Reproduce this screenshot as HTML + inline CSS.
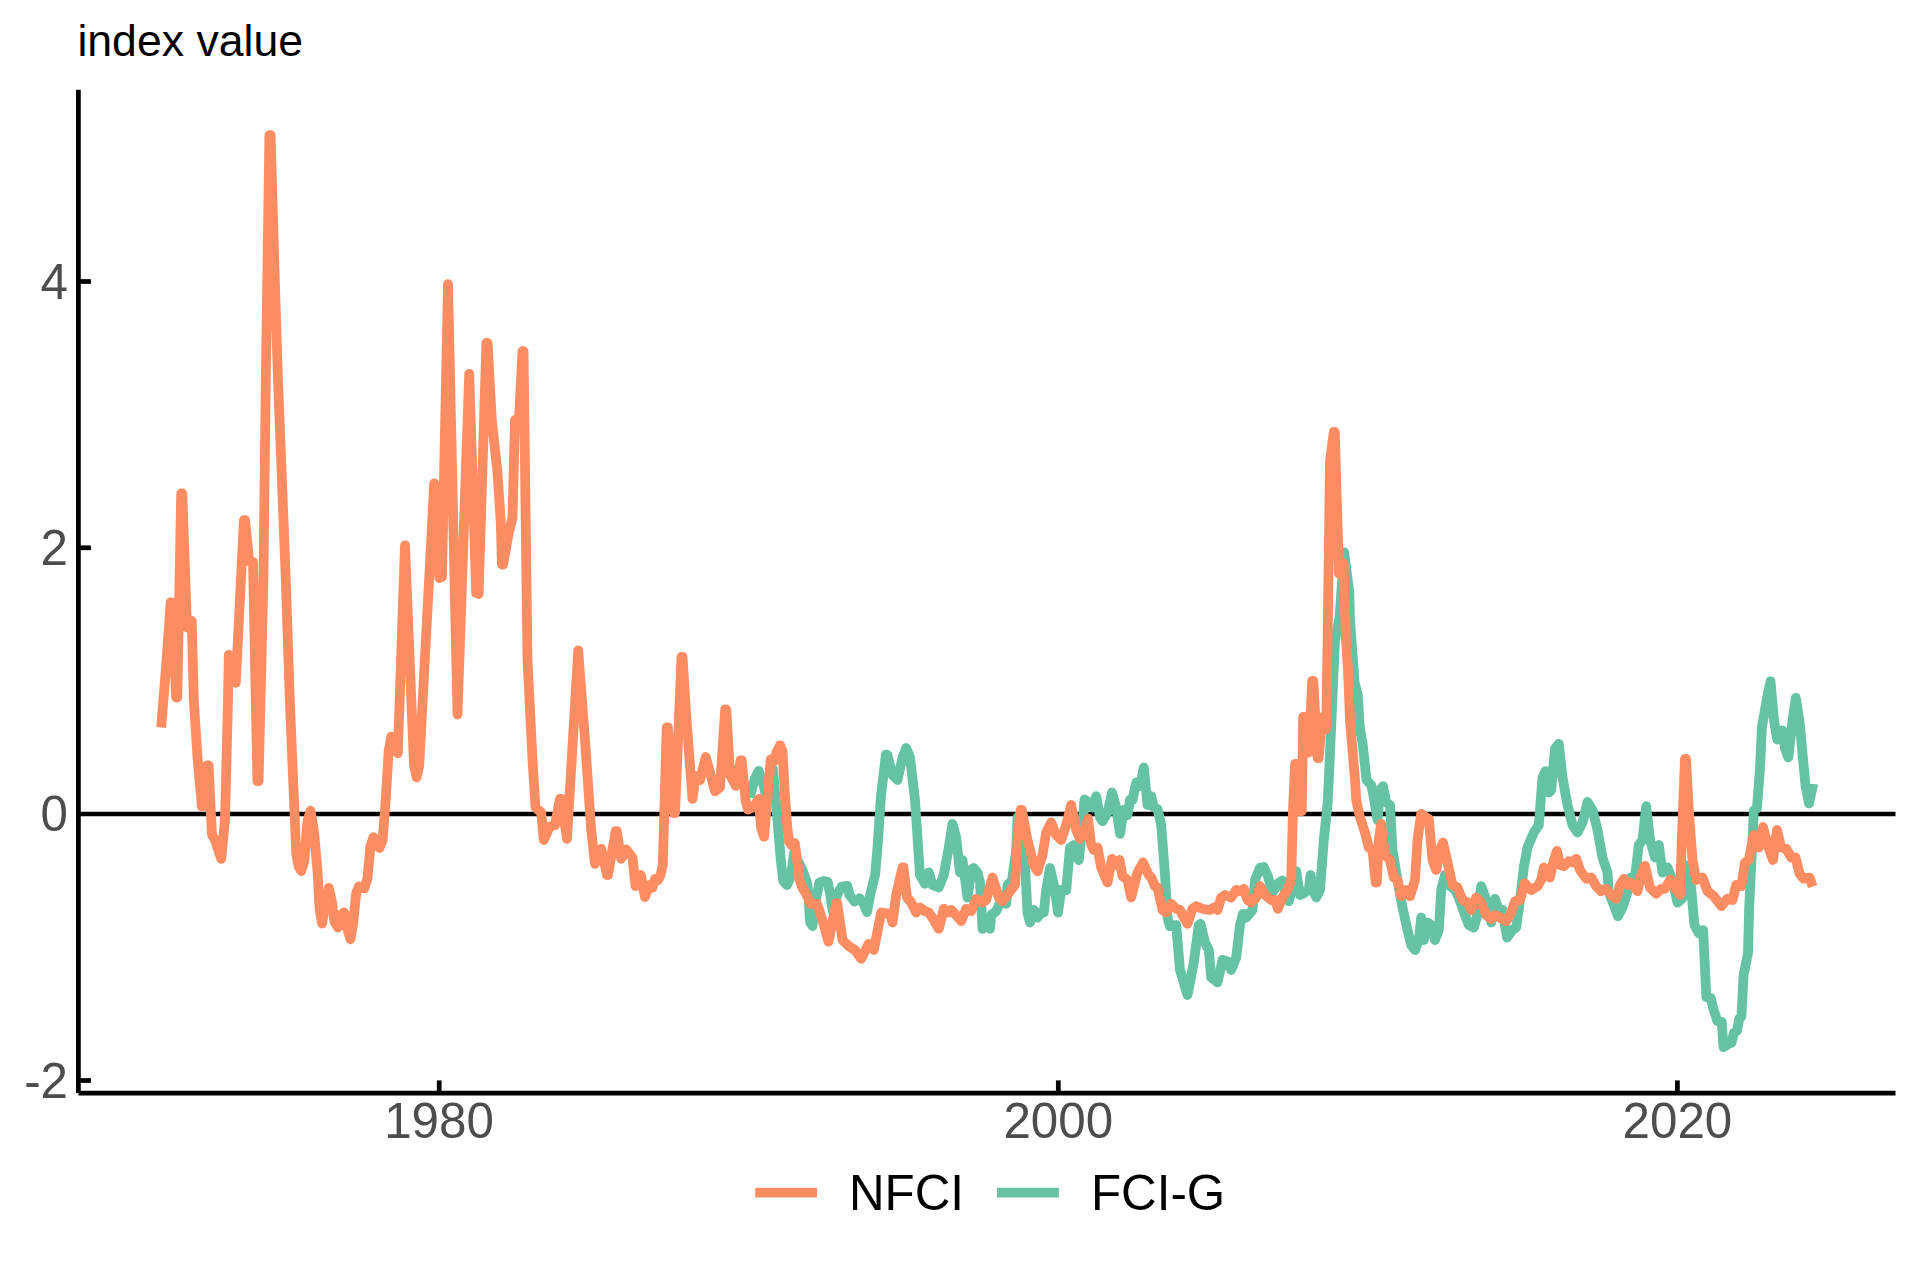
<!DOCTYPE html>
<html><head><meta charset="utf-8"><title>index value</title>
<style>
html,body{margin:0;padding:0;background:#fff;}
body{width:1920px;height:1280px;overflow:hidden;font-family:"Liberation Sans",sans-serif;}
svg{display:block}
text{font-family:"Liberation Sans",sans-serif;}
.ax{fill:#4d4d4d;font-size:49.3px}
</style></head><body>
<svg width="1920" height="1280" viewBox="0 0 1920 1280">
<rect width="1920" height="1280" fill="#fff"/>
<text x="77.4" y="56" font-size="44.6" fill="#000">index value</text>
<g stroke="#000" stroke-width="4.74" fill="none">
<line x1="78.4" y1="89.8" x2="78.4" y2="1093.1"/>
<line x1="78.4" y1="1093.1" x2="1895.5" y2="1093.1"/>
<line x1="78.4" y1="814" x2="1895.5" y2="814"/>
<line x1="78.4" y1="281.5" x2="90.9" y2="281.5"/>
<line x1="78.4" y1="547.8" x2="90.9" y2="547.8"/>
<line x1="78.4" y1="1080.5" x2="90.9" y2="1080.5"/>
<line x1="439.2" y1="1093.1" x2="439.2" y2="1080.4"/>
<line x1="1058.3" y1="1093.1" x2="1058.3" y2="1080.4"/>
<line x1="1677.4" y1="1093.1" x2="1677.4" y2="1080.4"/>
</g>
<g class="ax" text-anchor="end">
<text x="68.0" y="298.7">4</text>
<text x="68.0" y="565">2</text>
<text x="68.0" y="831.2">0</text>
<text x="68.0" y="1097.6">-2</text>
</g>
<g class="ax" text-anchor="middle">
<text x="439" y="1138">1980</text>
<text x="1058.3" y="1138">2000</text>
<text x="1677.4" y="1138">2020</text>
</g>
<g fill="none" stroke-width="9.8" stroke-linejoin="round" stroke-linecap="butt">
<polyline stroke="#66c2a5" points="749.7,797.3 754.6,779.2 758.7,771.0 762.8,782.5 766.9,798.9 773.0,769.4 776.8,812.1 780.9,861.3 783.3,881.0 786.9,885.1 791.0,876.1 794.0,853.1 802.2,869.5 807.1,882.6 808.4,894.1 810.1,922.0 812.5,926.1 815.3,902.3 819.4,882.6 823.5,881.0 827.6,881.8 830.1,894.1 832.6,910.5 837.5,894.1 841.6,886.7 847.3,885.9 849.8,895.7 854.7,901.5 859.6,898.2 863.7,903.9 867.0,912.2 870.3,894.1 875.2,874.4 877.7,844.9 881.0,795.6 885.9,754.6 887.5,755.0 887.5,755.5 892.5,775.0 897.5,780.0 902.5,757.5 906.2,748.0 910.0,757.5 915.0,800.0 920.0,875.0 925.0,883.8 928.8,872.5 932.5,885.0 938.8,887.5 943.8,875.0 948.8,847.5 952.5,823.8 956.2,837.5 960.0,872.5 962.5,860.0 967.5,897.5 971.2,870.0 973.8,868.0 977.5,872.5 980.0,882.5 982.5,928.8 986.2,920.0 990.0,928.8 991.2,915.0 996.2,911.2 1001.2,900.0 1006.2,903.8 1007.5,885.0 1012.0,880.5 1016.2,850.0 1017.5,817.5 1021.2,813.8 1023.8,840.0 1025.5,875.0 1027.5,912.5 1030.0,922.5 1033.8,910.0 1037.5,917.5 1041.2,912.5 1043.8,912.5 1046.2,890.0 1050.0,868.0 1055.0,890.0 1058.0,912.5 1061.2,890.0 1066.2,890.0 1070.0,847.5 1073.8,845.0 1078.8,860.0 1082.5,825.0 1084.5,799.5 1088.8,802.5 1092.5,807.5 1096.2,796.2 1100.0,817.5 1102.5,821.2 1107.5,812.5 1112.0,792.5 1116.2,807.5 1120.0,833.8 1123.8,810.0 1127.5,815.0 1130.0,800.0 1132.5,800.0 1136.2,782.5 1140.0,786.2 1143.8,767.5 1147.5,805.0 1151.2,796.2 1153.8,807.5 1157.5,808.8 1161.2,825.0 1165.0,875.0 1167.5,917.5 1170.0,926.2 1176.2,925.0 1180.0,970.0 1183.8,982.5 1187.5,995.0 1193.8,962.5 1198.8,925.0 1200.5,923.8 1205.0,942.5 1208.8,950.0 1211.2,977.5 1217.5,982.5 1222.5,960.0 1227.5,961.2 1231.2,970.0 1236.2,957.5 1240.0,925.0 1243.0,913.8 1246.2,917.5 1252.5,910.0 1255.0,880.0 1260.0,867.5 1263.8,867.0 1267.5,875.0 1272.5,892.5 1278.8,882.5 1282.5,880.5 1286.2,895.0 1288.8,901.2 1292.5,887.5 1296.2,871.2 1300.0,895.0 1305.0,892.5 1308.8,890.0 1310.5,875.0 1313.8,892.5 1316.2,897.5 1320.0,890.0 1323.8,840.0 1327.5,805.0 1328.8,780.0 1335.0,640.0 1339.5,618.0 1344.1,552.3 1349.3,592.0 1350.0,620.0 1354.6,682.5 1357.8,695.0 1359.6,726.0 1362.8,745.0 1366.5,780.0 1371.2,785.0 1373.8,797.5 1377.5,820.0 1380.0,790.0 1383.0,786.2 1386.2,802.5 1390.0,805.0 1392.5,850.0 1397.5,880.0 1402.5,907.5 1407.5,930.0 1411.2,945.0 1415.0,950.0 1418.8,940.0 1421.2,917.5 1423.8,940.0 1427.5,922.5 1431.2,925.0 1435.0,940.0 1438.8,930.0 1441.2,890.0 1445.0,875.0 1448.8,885.0 1455.0,890.0 1458.8,897.5 1465.0,915.0 1468.8,925.0 1473.8,927.5 1477.5,915.0 1481.2,886.2 1486.2,900.0 1490.0,915.0 1491.2,922.5 1495.0,898.8 1498.8,910.0 1502.5,910.0 1507.0,937.5 1512.5,930.0 1516.2,927.5 1520.0,900.0 1523.8,867.5 1527.5,847.5 1533.8,832.5 1538.8,825.0 1542.5,777.5 1545.5,771.2 1548.8,792.5 1551.2,790.0 1555.0,748.8 1558.8,743.8 1562.5,777.5 1567.5,805.0 1572.5,825.0 1577.5,832.5 1582.5,822.5 1587.5,802.0 1592.5,810.0 1597.5,830.0 1602.5,857.5 1607.5,872.5 1608.8,892.5 1613.8,905.0 1618.0,916.2 1622.5,907.5 1625.0,900.0 1627.5,892.5 1631.2,877.5 1635.0,877.5 1638.8,845.0 1642.5,840.0 1646.2,806.2 1650.0,840.0 1655.0,857.5 1658.8,845.0 1662.5,872.5 1667.5,867.5 1672.5,880.0 1677.5,902.5 1682.3,898.4 1687.8,865.6 1691.1,887.5 1694.4,924.7 1698.8,933.4 1703.1,930.2 1706.4,996.9 1710.8,998.0 1713.0,1007.8 1717.3,1020.9 1721.7,1022.0 1723.5,1047.2 1728.3,1043.9 1731.6,1042.8 1733.8,1033.0 1737.0,1030.8 1739.2,1018.8 1741.4,1016.6 1743.6,975.0 1748.0,953.1 1749.1,909.4 1751.2,865.6 1752.4,843.0 1753.8,810.6 1756.9,808.5 1759.9,769.9 1761.9,727.3 1768.0,692.8 1770.5,681.2 1774.1,721.2 1777.2,739.5 1782.2,730.4 1785.3,749.6 1788.3,757.4 1792.4,721.2 1795.8,697.9 1799.5,721.2 1802.5,753.7 1805.6,786.2 1809.0,803.5 1813.3,783.8"/>
<polyline stroke="#fc8d62" points="161.2,727.5 165.8,670.0 170.7,602.5 171.8,602.5 176.2,697.5 177.3,697.5 181.2,493.5 182.3,493.5 187.0,627.5 191.8,621.0 193.8,700.0 197.5,757.5 201.9,806.2 203.1,806.2 207.4,765.5 208.6,765.5 212.0,835.0 215.0,840.0 221.2,858.8 225.0,820.0 228.0,700.0 228.8,654.8 235.8,682.8 243.9,520.2 245.1,520.2 249.2,561.2 253.0,562.0 257.4,781.2 258.6,781.2 263.4,580.0 265.8,380.0 269.4,135.2 270.6,135.2 275.0,287.0 278.0,380.0 281.2,461.0 285.8,580.0 289.8,700.0 293.2,781.3 296.3,854.4 298.7,866.6 301.3,871.1 304.4,860.5 307.4,821.9 310.5,810.7 314.1,832.1 317.6,872.7 319.6,909.3 322.1,923.5 325.1,905.2 328.8,887.9 331.8,901.1 334.4,921.4 337.9,927.5 340.9,915.3 344.0,912.3 347.0,927.5 350.5,939.3 353.1,923.5 356.2,893.0 358.8,886.5 364.3,888.5 367.4,878.8 370.4,846.3 373.5,837.1 379.5,847.9 382.6,840.2 385.6,801.6 388.7,750.8 391.3,736.6 397.8,753.2 405.0,545.5 414.0,765.0 416.6,777.5 419.2,766.0 434.2,483.5 439.4,578.0 442.0,577.0 448.0,284.2 457.5,714.5 469.2,373.8 476.2,593.0 478.6,594.0 486.4,343.0 487.6,343.0 491.8,420.0 497.5,472.5 500.8,522.5 501.9,564.5 503.1,564.5 508.8,532.5 512.5,517.5 515.0,420.0 518.8,422.5 522.5,351.2 523.5,351.2 526.2,560.0 527.5,660.0 532.5,760.0 535.5,807.5 541.2,812.5 543.8,840.0 550.0,826.2 555.0,825.0 560.0,798.8 561.0,798.8 567.0,838.8 578.2,650.5 585.0,740.0 591.2,830.0 595.0,863.8 601.2,848.8 607.0,875.0 608.0,875.0 615.7,831.2 616.8,831.2 621.2,858.8 626.2,849.5 632.5,857.5 635.5,886.2 640.8,875.0 645.0,897.0 649.5,885.0 652.5,887.5 655.0,878.8 658.0,880.0 660.5,875.0 662.8,865.0 666.7,727.5 667.8,727.5 674.0,813.2 675.0,813.2 681.5,657.0 682.5,657.0 686.2,715.0 692.5,798.8 695.5,776.2 700.0,780.0 705.8,757.0 715.0,791.2 720.0,787.5 725.2,709.5 726.3,709.5 730.0,775.0 735.7,785.8 740.6,760.4 741.7,760.4 745.6,800.6 748.1,809.6 753.8,807.1 758.7,798.9 761.2,828.5 764.0,836.7 767.7,795.6 770.7,759.5 774.3,761.2 776.8,751.3 780.1,745.3 782.5,751.3 785.0,795.6 787.4,828.5 789.1,841.6 791.5,844.9 794.8,843.2 797.3,861.3 798.9,877.7 802.2,887.5 806.3,894.1 810.4,903.9 817.0,903.9 819.4,910.5 824.4,926.9 828.5,941.7 836.1,903.1 837.2,903.1 842.5,940.0 848.8,946.2 855.0,950.0 861.2,958.8 868.8,943.8 873.8,950.0 881.2,912.5 890.0,913.8 892.5,922.5 896.2,895.0 902.5,867.5 903.5,867.5 907.0,897.5 911.2,902.5 916.2,912.5 920.0,907.5 925.0,911.2 928.8,912.5 933.8,920.0 938.8,928.8 943.8,908.8 948.8,912.5 951.2,910.0 955.0,913.8 961.2,921.2 966.2,908.8 971.2,911.2 976.2,898.8 982.5,902.5 986.2,900.0 992.5,877.5 998.8,897.5 1002.5,901.2 1010.0,891.2 1015.0,885.0 1017.5,840.0 1020.7,810.0 1021.8,810.0 1027.5,840.0 1033.8,865.0 1037.5,871.2 1042.5,855.0 1046.2,832.5 1051.2,822.5 1056.2,835.0 1061.2,840.0 1066.2,825.0 1071.2,805.0 1076.2,830.0 1080.0,838.8 1085.0,830.0 1088.0,818.8 1091.2,845.0 1093.8,850.0 1097.5,847.5 1101.2,867.5 1107.5,882.5 1112.0,858.8 1116.2,865.0 1119.5,860.0 1122.5,876.2 1127.5,880.0 1131.2,897.5 1137.5,872.5 1143.0,862.5 1148.8,875.0 1151.2,877.5 1155.0,886.2 1157.5,887.5 1162.5,910.0 1166.2,912.5 1171.2,903.8 1176.2,908.8 1180.0,910.0 1183.8,917.5 1187.5,923.8 1192.5,908.8 1196.2,906.2 1202.5,908.8 1210.0,910.0 1213.8,907.5 1217.5,910.0 1221.2,897.5 1225.0,895.0 1231.2,897.5 1236.2,890.0 1240.0,891.2 1243.8,888.8 1247.5,900.0 1251.2,902.5 1256.2,897.5 1260.0,886.2 1265.0,895.0 1271.2,900.0 1275.0,900.0 1278.0,908.8 1282.5,897.5 1287.5,890.0 1291.2,880.0 1293.0,810.0 1295.1,763.8 1296.2,763.8 1300.7,811.2 1301.8,811.2 1303.2,716.9 1304.3,716.9 1307.6,752.5 1308.7,752.5 1312.2,680.9 1313.3,680.9 1317.6,758.1 1318.7,758.1 1322.2,717.2 1326.2,729.0 1327.6,640.0 1330.0,461.3 1333.8,432.0 1334.8,432.0 1339.0,573.8 1343.6,563.5 1346.0,640.0 1348.0,670.0 1350.0,720.0 1355.0,780.0 1356.2,800.0 1360.0,817.5 1365.0,832.5 1368.8,847.5 1372.5,850.0 1375.7,882.5 1376.8,882.5 1378.8,840.0 1381.2,823.8 1385.0,855.0 1390.0,860.0 1393.8,877.5 1397.5,880.0 1401.2,896.2 1406.2,890.0 1410.0,896.2 1415.0,880.0 1417.5,840.0 1421.2,813.8 1426.2,817.5 1428.8,818.8 1432.5,860.0 1436.2,870.0 1440.0,850.0 1443.0,842.5 1447.5,862.5 1452.5,885.0 1457.5,887.5 1462.5,900.0 1467.5,902.5 1471.2,910.0 1476.2,897.5 1481.2,902.5 1486.2,915.0 1491.2,918.8 1495.0,915.0 1500.0,917.5 1506.2,921.2 1511.2,912.5 1515.0,901.2 1520.0,900.0 1524.5,883.2 1531.2,890.0 1537.5,886.2 1541.2,880.0 1543.8,867.5 1546.2,868.8 1550.0,877.5 1553.8,860.0 1557.0,850.8 1560.0,865.0 1563.8,866.2 1568.8,861.2 1572.5,862.5 1576.2,858.8 1580.0,870.0 1586.2,878.8 1591.2,877.5 1596.2,886.2 1601.2,891.2 1606.2,888.8 1611.2,895.0 1616.2,898.8 1620.0,885.0 1623.8,878.8 1627.5,885.0 1631.2,882.5 1637.5,891.2 1641.2,875.0 1645.0,865.8 1650.0,887.5 1656.2,893.8 1661.2,888.8 1665.0,888.8 1670.5,879.5 1675.0,887.5 1680.0,895.0 1682.0,835.0 1685.0,758.8 1686.0,758.8 1688.8,810.0 1692.5,860.0 1696.2,880.0 1702.5,877.5 1707.5,891.2 1713.8,896.2 1721.2,906.2 1727.5,898.8 1732.5,900.0 1736.2,885.0 1741.2,886.2 1745.0,862.5 1748.8,860.0 1753.8,835.0 1758.8,847.5 1763.0,827.0 1767.5,845.0 1773.0,860.0 1777.0,830.0 1781.2,847.5 1786.2,848.8 1791.2,857.5 1795.5,857.5 1799.5,873.5 1803.6,878.6 1809.6,877.6 1812.7,886.7"/>
</g>
<g stroke-width="9.8" fill="none">
<line x1="755.2" y1="1192.7" x2="817" y2="1192.7" stroke="#fc8d62"/>
<line x1="997" y1="1192.7" x2="1058.9" y2="1192.7" stroke="#66c2a5"/>
</g>
<text x="849" y="1210.4" font-size="49.3" fill="#000">NFCI</text>
<text x="1091" y="1210.4" font-size="49.3" fill="#000">FCI-G</text>
</svg>
</body></html>
